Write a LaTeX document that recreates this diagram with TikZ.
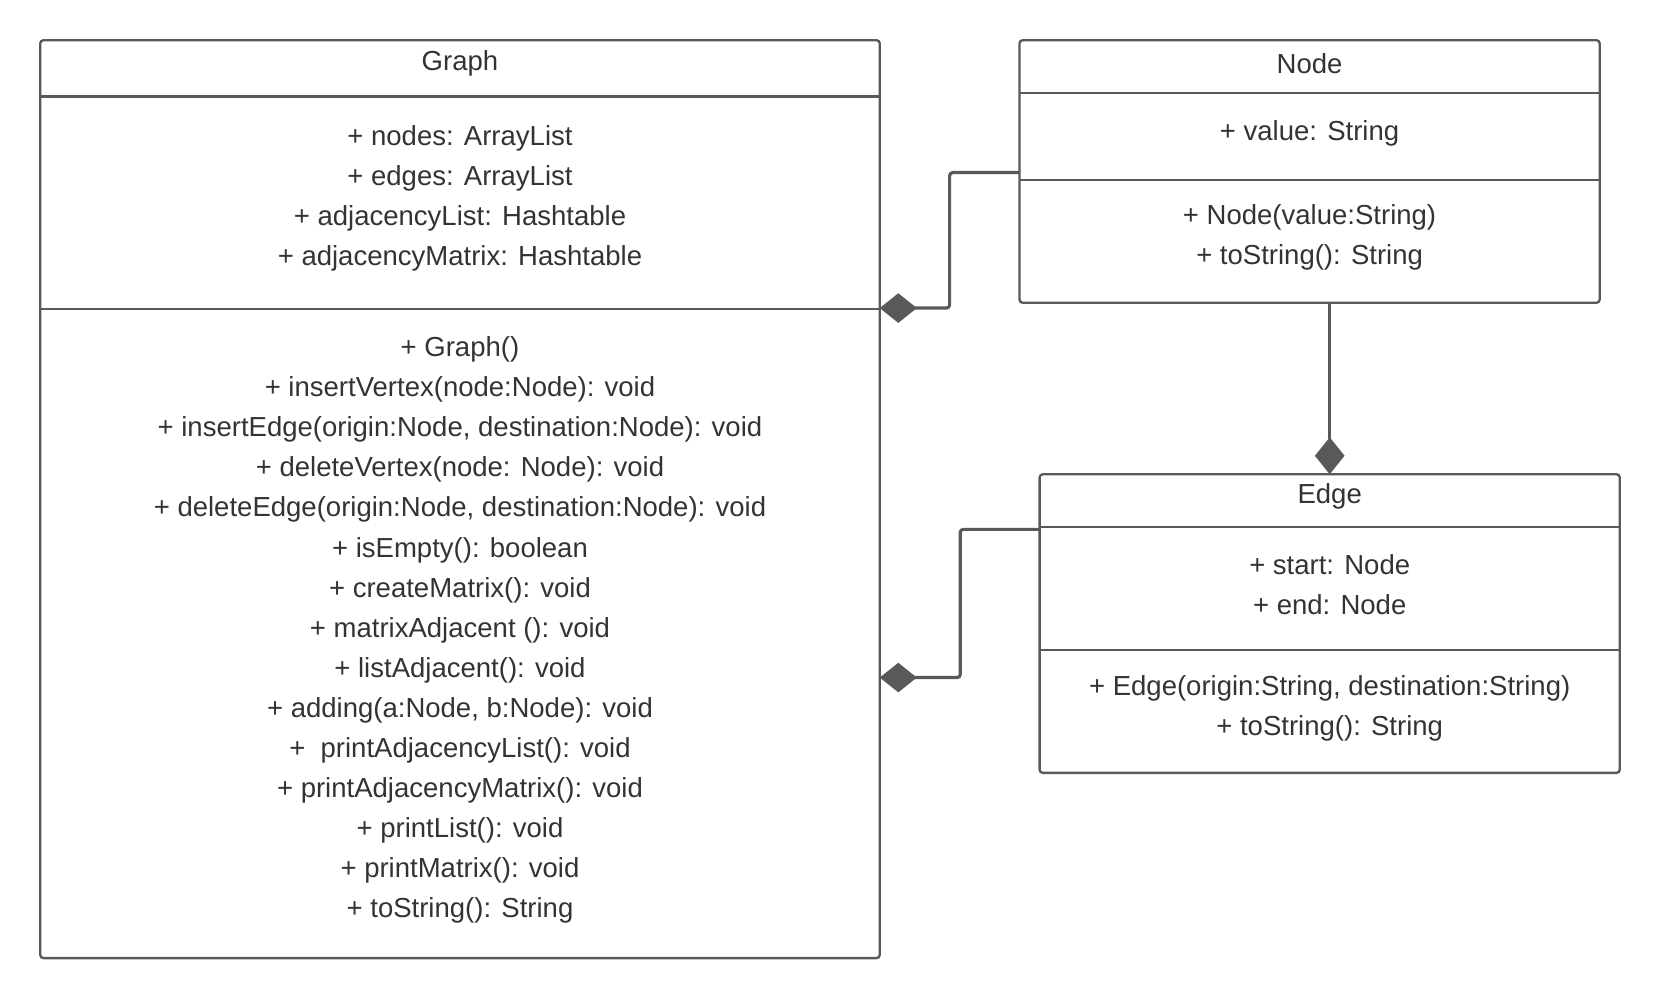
\documentclass[tikz,border=0pt]{standalone}
\usepackage{fontspec}
\setmainfont{Liberation Sans}
\usetikzlibrary{arrows.meta}
\definecolor{ln}{HTML}{595959}
\definecolor{tx}{HTML}{333333}
\begin{document}
\begin{tikzpicture}[x=1pt,y=-1pt,
  box/.style={draw=ln,line width=2.2pt,rounded corners=3pt},
  div/.style={draw=ln,line width=2.2pt},
  t/.style={text=tx,font=\fontsize{26}{37.8}\selectfont,align=center,inner sep=0pt},
  conn/.style={draw=ln,line width=3pt,{Diamond[length=35pt,width=28pt,fill=ln]}-}]
\useasboundingbox (0,0) rectangle (1568,942);
% Graph
\draw[box] (38,38) rectangle (831,905);
\draw[div] (38,91) -- (831,91);
\draw[div] (38,292) -- (831,292);
\node[t] (gt) at (434.5,60) {Graph};
\node[t] (ga) at (434.5,187) {+ nodes: ArrayList\\+ edges: ArrayList\\+ adjacencyList: Hashtable\\+ adjacencyMatrix: Hashtable};
\node[t] (gm) at (434.5,595) {+ Graph()\\+ insertVertex(node:Node): void\\+ insertEdge(origin:Node, destination:Node): void\\+ deleteVertex(node: Node): void\\+ deleteEdge(origin:Node, destination:Node): void\\+ isEmpty(): boolean\\+ createMatrix(): void\\+ matrixAdjacent (): void\\+ listAdjacent(): void\\+ adding(a:Node, b:Node): void\\+\ \ printAdjacencyList(): void\\+ printAdjacencyMatrix(): void\\+ printList(): void\\+ printMatrix(): void\\+ toString(): String};
% Node
\draw[box] (963,38) rectangle (1511,286);
\draw[div] (963,88) -- (1511,88);
\draw[div] (963,170) -- (1511,170);
\node[t] (nt) at (1237,60) {Node};
\node[t] (na) at (1237,126) {+ value: String};
\node[t] (nm) at (1237,224) {+ Node(value:String)\\+ toString(): String};
% Edge
\draw[box] (982,448) rectangle (1530,730);
\draw[div] (982,498) -- (1530,498);
\draw[div] (982,614) -- (1530,614);
\node[t] (et) at (1256,469) {Edge};
\node[t] (ea) at (1256,552) {+ start: Node\\+ end: Node};
\node[t] (em) at (1256,669) {+ Edge(origin:String, destination:String)\\+ toString(): String};
% anchors
\coordinate (g1) at (831,291);
\coordinate (g2) at (831,640);
\coordinate (n1) at (963,163);
\coordinate (nb) at (1256,286);
\coordinate (et1) at (1256,448);
\coordinate (e1) at (982,500);
\draw[conn,rounded corners=3pt] (g1) -- (897,291) -- (897,163) -- (n1);
\draw[conn,rounded corners=3pt] (g2) -- (907,640) -- (907,500) -- (e1);
\draw[conn] (et1) -- (nb);
\end{tikzpicture}
\end{document}
